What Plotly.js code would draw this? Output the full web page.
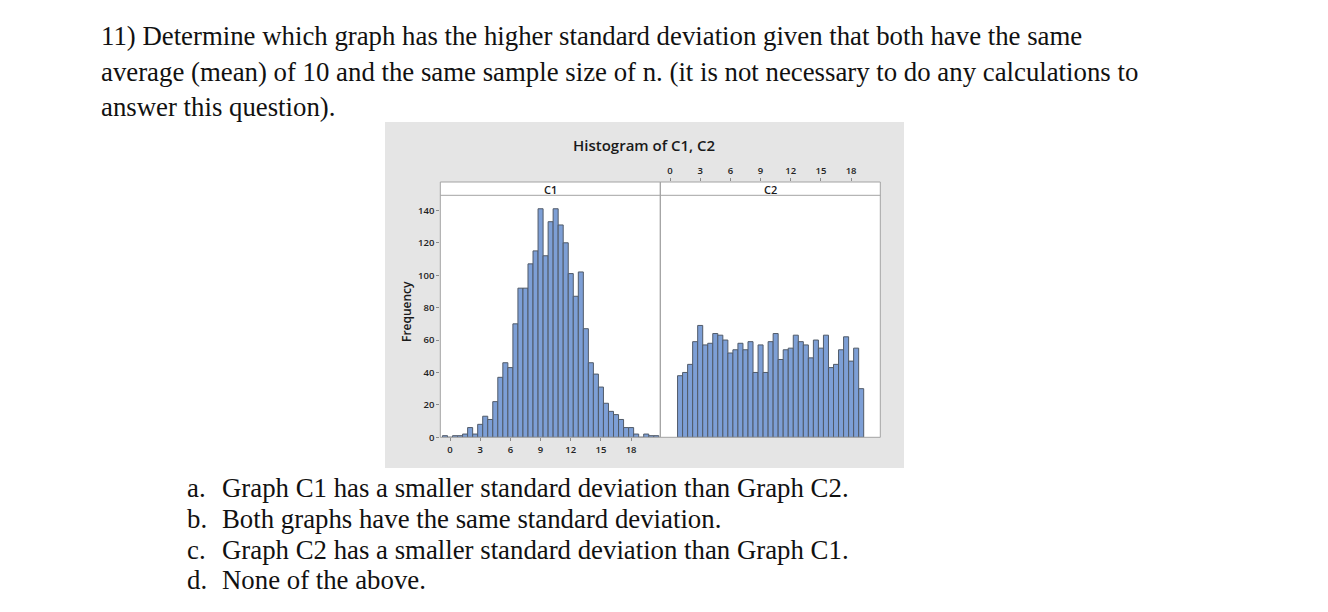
<!DOCTYPE html>
<html>
<head>
<meta charset="utf-8">
<script src="https://cdn.plot.ly/plotly-3.0.1.min.js"></script>
<style>
  html, body { margin: 0; padding: 0; background: #ffffff; }
  #chart { width: 1328px; height: 612px; }
</style>
</head>
<body>
<div id="chart"></div>
<script>
// ---------- data ----------
const c1Bins = [-0.5, 0, 0.5, 1, 1.5, 2, 2.5, 3, 3.5, 4, 4.5, 5, 5.5, 6, 6.5, 7, 7.5, 8, 8.5, 9, 9.5,
                10, 10.5, 11, 11.5, 12, 12.5, 13, 13.5, 14, 14.5, 15, 15.5, 16, 16.5, 17, 17.5, 18, 18.5, 19, 19.5, 20, 20.5];
const c1Freq = [1, 0, 1, 1, 2, 6, 2, 8, 13, 11, 22, 37, 46, 43, 70, 92, 92, 107, 115, 141, 112,
                133, 141, 131, 120, 101, 87, 102, 67, 46, 39, 31, 21, 16, 14, 11, 6, 6, 2, 0, 2, 1, 1];
const c2Bins = [1, 1.5, 2, 2.5, 3, 3.5, 4, 4.5, 5, 5.5, 6, 6.5, 7, 7.5, 8, 8.5, 9, 9.5, 10,
                10.5, 11, 11.5, 12, 12.5, 13, 13.5, 14, 14.5, 15, 15.5, 16, 16.5, 17, 17.5, 18, 18.5, 19];
const c2Freq = [38, 40, 45, 59, 69, 57, 58, 64, 63, 60, 52, 54, 58, 54, 59, 40, 57, 40, 59,
                64, 48, 54, 55, 63, 59, 57, 49, 60, 55, 63, 43, 45, 54, 62, 47, 55, 30];
const xTicks = [0, 3, 6, 9, 12, 15, 18];
const yTicks = [0, 20, 40, 60, 80, 100, 120, 140];
const chartTitle = "Histogram of C1, C2";
const panelNames = ["C1", "C2"];
const yLabel = "Frequency";
const questionLines = [
  "11) Determine which graph has the higher standard deviation given that both have the same",
  "average (mean) of 10 and the same sample size of n. (it is not necessary to do any calculations to",
  "answer this question)."
];
const choiceLetters = ["a.", "b.", "c.", "d."];
const choiceTexts = [
  "Graph C1 has a smaller standard deviation than Graph C2.",
  "Both graphs have the same standard deviation.",
  "Graph C2 has a smaller standard deviation than Graph C1.",
  "None of the above."
];

// ---------- geometry helpers (pixels -> paper) ----------
const W = 1328, H = 612;
const px = p => p / W;
const py = p => 1 - p / H;

const P1L = 440.3, P1R = 660.3, P2L = 660.3, P2R = 880.3;
const PT = 182, PB = 437.3, STRIP = 195.3;
const XR = [-0.965, 20.9];

const barFill = "#7d9fd6";
const barLine = "#505a68";
const frameCol = "#a3a3a3";
const sans = "Open Sans, Noto Sans, sans-serif";
const tickFont = {family: sans, size: 9.5, color: "#222", weight: 600};

const traces = [
  {type: "bar", x: c1Bins, y: c1Freq, width: 0.5, xaxis: "x", yaxis: "y",
   marker: {color: barFill, line: {color: barLine, width: 1}}, hoverinfo: "x+y"},
  {type: "bar", x: c2Bins, y: c2Freq, width: 0.5, xaxis: "x2", yaxis: "y",
   marker: {color: barFill, line: {color: barLine, width: 1}}, hoverinfo: "x+y"}
];

const shapes = [
  {type: "rect", xref: "paper", yref: "paper", layer: "below",
   x0: px(385), x1: px(904), y0: py(468), y1: py(122),
   fillcolor: "#e5e5e5", line: {width: 0}},
  {type: "rect", xref: "paper", yref: "paper", layer: "below",
   x0: px(P1L), x1: px(P2R), y0: py(PB), y1: py(PT),
   fillcolor: "#ffffff", line: {width: 0}},
  {type: "rect", xref: "paper", yref: "paper", layer: "above",
   x0: px(P1L), x1: px(P1R), y0: py(PB), y1: py(PT),
   fillcolor: "rgba(0,0,0,0)", line: {color: frameCol, width: 1}},
  {type: "rect", xref: "paper", yref: "paper", layer: "above",
   x0: px(P2L), x1: px(P2R), y0: py(PB), y1: py(PT),
   fillcolor: "rgba(0,0,0,0)", line: {color: frameCol, width: 1}},
  {type: "line", xref: "paper", yref: "paper", layer: "above",
   x0: px(P1L), x1: px(P2R), y0: py(STRIP), y1: py(STRIP),
   line: {color: frameCol, width: 1}}
];

const serif = {family: "Liberation Serif, Times New Roman, serif", size: 26.8, color: "#111"};
const annotations = [];
questionLines.forEach((t, i) => {
  annotations.push({text: t, xref: "paper", yref: "paper", x: px(99), y: py([36, 72, 107][i]),
    xanchor: "left", yanchor: "middle", showarrow: false, font: serif});
});
choiceLetters.forEach((t, i) => {
  const yy = [488, 519, 550, 580][i];
  annotations.push({text: t, xref: "paper", yref: "paper", x: px(185), y: py(yy),
    xanchor: "left", yanchor: "middle", showarrow: false, font: serif});
  annotations.push({text: choiceTexts[i], xref: "paper", yref: "paper", x: px(220), y: py(yy),
    xanchor: "left", yanchor: "middle", showarrow: false, font: serif});
});
annotations.push({text: chartTitle, xref: "paper", yref: "paper", x: px(644), y: py(145),
  xanchor: "center", yanchor: "middle", showarrow: false,
  font: {family: sans, size: 15, color: "#1a1a1a", weight: 600}});
annotations.push({text: panelNames[0], xref: "paper", yref: "paper", x: px((P1L + P1R) / 2), y: py(189),
  xanchor: "center", yanchor: "middle", showarrow: false,
  font: {family: sans, size: 11, color: "#1a1a1a", weight: 600}});
annotations.push({text: panelNames[1], xref: "paper", yref: "paper", x: px((P2L + P2R) / 2), y: py(189),
  xanchor: "center", yanchor: "middle", showarrow: false,
  font: {family: sans, size: 11, color: "#1a1a1a", weight: 600}});
annotations.push({text: yLabel, xref: "paper", yref: "paper", x: px(406), y: py(312),
  xanchor: "center", yanchor: "middle", showarrow: false, textangle: -90,
  font: {family: sans, size: 12, color: "#1a1a1a", weight: 600}});

const layout = {
  width: W, height: H,
  margin: {l: 0, r: 0, t: 0, b: 0, pad: 0},
  paper_bgcolor: "#ffffff", plot_bgcolor: "rgba(0,0,0,0)",
  showlegend: false, bargap: 0,
  xaxis: {domain: [px(P1L), px(P1R)], range: XR, anchor: "y", tickvals: xTicks,
    ticks: "outside", ticklen: 3, tickcolor: "#8c8c8c", tickfont: tickFont,
    showgrid: false, zeroline: false, showline: false, fixedrange: true},
  xaxis2: {domain: [px(P2L), px(P2R)], range: XR, anchor: "y", side: "top", tickvals: xTicks,
    ticks: "outside", ticklen: 3, tickcolor: "#8c8c8c", tickfont: tickFont,
    showgrid: false, zeroline: false, showline: false, fixedrange: true},
  yaxis: {domain: [py(PB), py(PT)], range: [0, 157.5], anchor: "x", tickvals: yTicks,
    ticks: "outside", ticklen: 3, tickcolor: "#8c8c8c", tickfont: tickFont,
    showgrid: false, zeroline: false, showline: false, fixedrange: true},
  shapes: shapes,
  annotations: annotations
};

Plotly.newPlot("chart", traces, layout, {displayModeBar: false, staticPlot: true});
</script>
</body>
</html>
